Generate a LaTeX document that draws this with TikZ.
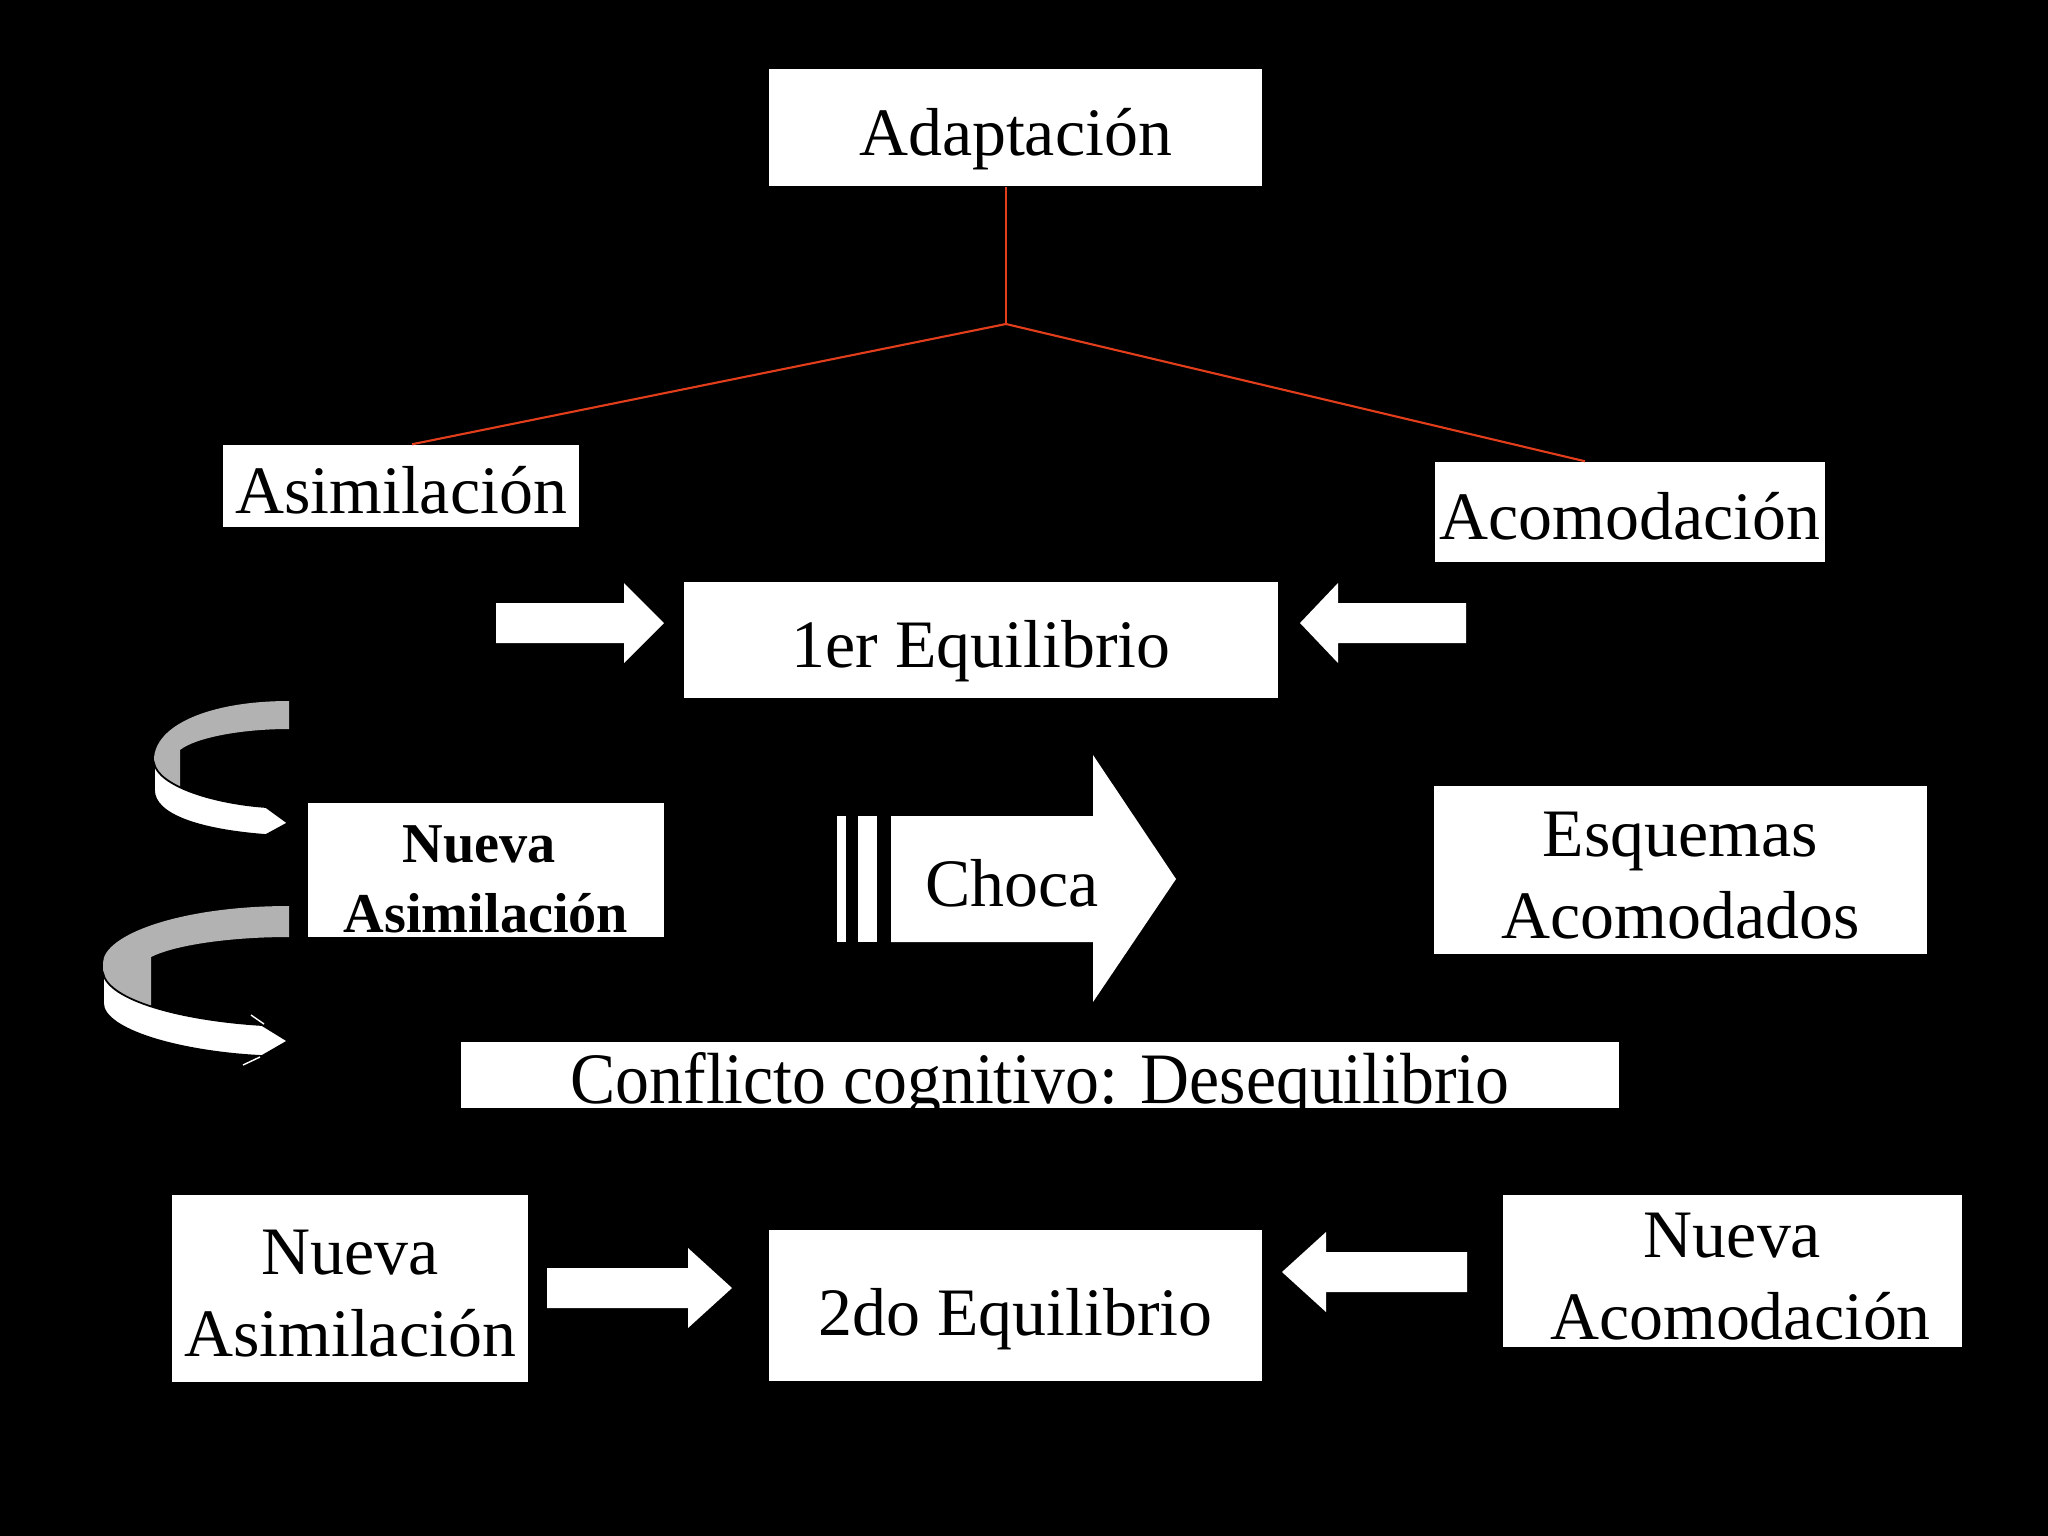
\documentclass[tikz,border=0pt]{standalone}
\usepackage{fontspec}
\setmainfont{Liberation Serif}
\usepackage{graphicx}
\definecolor{treered}{RGB}{226,62,28}
\tikzset{
  box/.style={fill=white,inner sep=0pt,text height=0.65cm,text depth=0.1cm},
  twoline/.style={fill=white,inner sep=0pt,align=center},
  redline/.style={draw=treered,line width=0.6pt},
  blockarrow/.style={fill=white},
  backband/.style={fill=black!30},
  frontband/.style={fill=white,draw=black,line width=0.5pt}
}
\begin{document}
\begin{tikzpicture}[x=0.01cm,y=-0.01cm,every node/.style={font=\fontsize{19.3pt}{23.3pt}\selectfont}]
  \fill[black] (0,0) rectangle (2048,1536);
  \useasboundingbox (0,0) rectangle (2048,1536);
  \node[box,minimum width=4.93cm,minimum height=1.17cm] (adapt) at (1015.5,127.5) {Adaptación};
  \node[box,minimum width=3.56cm,minimum height=0.82cm] (asim) at (401,486) {Asimilación};
  \node[box,minimum width=3.90cm,minimum height=1.00cm] (acom) at (1630,512) {Acomodación};
  \node[box,minimum width=5.94cm,minimum height=1.16cm] (eq1) at (981,640) {1er Equilibrio};
  \node[twoline,minimum width=3.56cm,minimum height=1.34cm,font=\fontsize{16pt}{19.9pt}\selectfont\bfseries] (nasim) at (486,870) {\rule{0pt}{0.56cm}Nueva\hspace*{0.14cm}\\Asimilación};
  \node[twoline,minimum width=4.93cm,minimum height=1.68cm] (esq) at (1680.5,870) {\rule{0pt}{0.56cm}Esquemas\\Acomodados};
  \node[box,minimum width=11.58cm,minimum height=0.66cm,text height=0.61cm,text depth=0.05cm,font=\fontsize{20.6pt}{24pt}\selectfont] (confl) at (1040,1075) {\scalebox{0.935}[1]{Conflicto cognitivo: Desequilibrio}};
  \node[twoline,minimum width=3.56cm,minimum height=1.87cm] (nasim2) at (350,1288.5) {\rule{0pt}{0.54cm}Nueva\\Asimilación};
  \node[box,minimum width=4.93cm,minimum height=1.51cm,text depth=0.06cm] (eq2) at (1015.5,1305.5) {2do Equilibrio};
  \node[twoline,minimum width=4.59cm,minimum height=1.52cm] (nacom) at (1732.5,1271) {\rule{0pt}{0.56cm}Nueva\\\hspace*{0.16cm}Acomodación};
  \coordinate (fork) at (1006,324);
  \draw[redline] (adapt.south -| fork) -- (fork);
  \draw[redline] (fork) -- ([xshift=0.11cm]asim.north);
  \draw[redline] (fork) -- ([xshift=-0.45cm]acom.north);
  \fill[blockarrow] (496,603) -- (624,603) -- (624,583) -- (664,623) -- (624,663) -- (624,643) -- (496,643) -- cycle;
  \fill[blockarrow] (1466,603) -- (1338,603) -- (1338,583) -- (1300,623) -- (1338,663) -- (1338,643) -- (1466,643) -- cycle;
  \fill[blockarrow] (547,1268) -- (688,1268) -- (688,1248) -- (732,1288) -- (688,1328) -- (688,1308) -- (547,1308) -- cycle;
  \fill[blockarrow] (1467,1252) -- (1326,1252) -- (1326,1232) -- (1282,1272) -- (1326,1312) -- (1326,1292) -- (1467,1292) -- cycle;
  \fill[blockarrow] (837,816) rectangle (846,942);
  \fill[blockarrow] (858,816) rectangle (877,942);
  \fill[blockarrow] (891,816) -- (1093,816) -- (1093,755) -- (1176,879) -- (1093,1002) -- (1093,942) -- (891,942) -- cycle;
  \node[anchor=base] (choca) at (1012,906) {Choca};
  \fill[backband] (289,701) .. controls (210,701) and (154,725) .. (154,760) -- (154,785) -- (180,795) -- (180,750) .. controls (195,738) and (240,729) .. (289,729) -- cycle;
  \filldraw[frontband] (154,763) .. controls (158,785) and (210,803) .. (266,807) -- (288,823) -- (266,835) .. controls (200,830) and (154,815) .. (154,790) -- cycle;
  \fill[backband] (289,906) .. controls (180,906) and (103,935) .. (103,963) -- (103,990) -- (151,1010) -- (151,957) .. controls (175,945) and (230,937) .. (289,937) -- cycle;
  \filldraw[frontband] (103,973) .. controls (108,1000) and (180,1020) .. (262,1025) -- (288,1041) -- (262,1056) .. controls (180,1052) and (103,1030) .. (103,1003) -- cycle;
  \draw[white,line width=0.4pt] (251,1015) -- (264,1024) (243,1065) -- (260,1057);
\end{tikzpicture}
\end{document}
